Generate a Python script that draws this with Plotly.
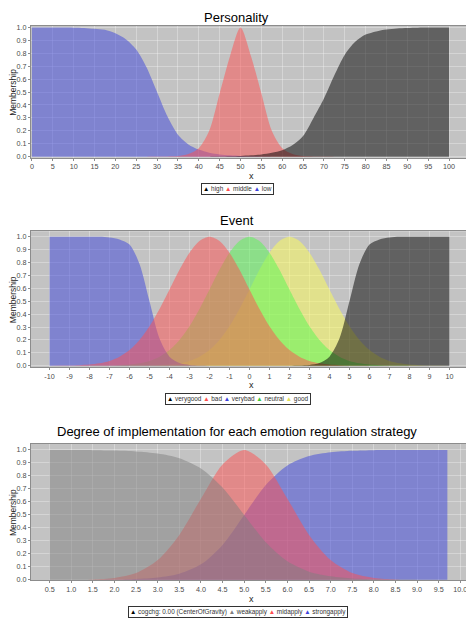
import plotly.graph_objects as go

# ---------------- data ----------------
# Personality
pers_x = [0, 2.5, 5, 7.5, 10, 12.5, 15, 17.5, 20, 22.5, 25, 27.5, 30, 32.5, 35, 37.5, 40,
          42.5, 45, 47.5, 50, 52.5, 55, 57.5, 60, 62.5, 65, 67.5, 70, 72.5, 75, 77.5, 80,
          82.5, 85, 87.5, 90, 92.5, 95, 97.5, 100]
pers_low = [1.0, 1.0, 1.0, 1.0, 0.999, 0.997, 0.99, 0.982, 0.955, 0.91, 0.83, 0.69, 0.5,
            0.31, 0.17, 0.095, 0.055, 0.03, 0.017, 0.01, 0.006, 0.003, 0.001, 0, 0, 0, 0,
            0, 0, 0, 0, 0, 0, 0, 0, 0, 0, 0, 0, 0, 0]
pers_middle = [0, 0, 0, 0, 0, 0, 0, 0, 0, 0, 0, 0, 0.0005, 0.002, 0.005, 0.02, 0.065, 0.2,
               0.49, 0.78, 1.0, 0.78, 0.49, 0.2, 0.065, 0.02, 0.005, 0.002, 0.0005, 0, 0,
               0, 0, 0, 0, 0, 0, 0, 0, 0, 0]
pers_high = [0, 0, 0, 0, 0, 0, 0, 0, 0, 0, 0, 0, 0, 0, 0, 0, 0, 0, 0.001, 0.003, 0.006,
             0.01, 0.017, 0.03, 0.05, 0.09, 0.16, 0.3, 0.45, 0.63, 0.79, 0.89, 0.945, 0.97,
             0.985, 0.993, 0.997, 0.999, 1.0, 1.0, 1.0]
pers_ticks = [0, 5, 10, 15, 20, 25, 30, 35, 40, 45, 50, 55, 60, 65, 70, 75, 80, 85, 90, 95, 100]

# Event
ev_x = [-10, -9.5, -9, -8.5, -8, -7.5, -7, -6.5, -6, -5.5, -5, -4.5, -4, -3.5, -3, -2.5,
        -2, -1.5, -1, -0.5, 0, 0.5, 1, 1.5, 2, 2.5, 3, 3.5, 4, 4.5, 5, 5.5, 6, 6.5, 7,
        7.5, 8, 8.5, 9, 9.5, 10]
ev_verygood = [0, 0, 0, 0, 0, 0, 0, 0, 0, 0, 0, 0, 0, 0, 0, 0, 0, 0, 0, 0, 0, 0, 0, 0, 0,
               0.0015, 0.006, 0.02, 0.07, 0.21, 0.5, 0.79, 0.94, 0.98, 0.995,
               1.0, 1.0, 1.0, 1.0, 1.0, 1.0]
ev_bad = [0, 0.0006, 0.0016, 0.004, 0.009, 0.019, 0.037, 0.07, 0.122, 0.2, 0.306, 0.44,
          0.591, 0.744, 0.877, 0.968, 1.0, 0.968, 0.877, 0.744, 0.591, 0.44, 0.306, 0.2,
          0.122, 0.07, 0.037, 0.019, 0.009, 0.004, 0.0016, 0.0006, 0, 0, 0, 0, 0, 0, 0, 0, 0]
ev_verybad = [1.0, 1.0, 1.0, 1.0, 1.0, 1.0, 0.995, 0.98, 0.94, 0.79, 0.5, 0.21, 0.07, 0.02,
              0.006, 0.0015, 0, 0, 0, 0, 0, 0, 0, 0, 0, 0, 0, 0, 0, 0, 0, 0, 0, 0, 0, 0,
              0, 0, 0, 0, 0]
ev_neutral = [0, 0, 0, 0, 0, 0.0006, 0.0016, 0.004, 0.009, 0.019, 0.037, 0.07, 0.122, 0.2,
              0.306, 0.44, 0.591, 0.744, 0.877, 0.968, 1.0, 0.968, 0.877, 0.744, 0.591,
              0.44, 0.306, 0.2, 0.122, 0.07, 0.037, 0.019, 0.009, 0.004, 0.0016, 0.0006,
              0, 0, 0, 0, 0]
ev_good = [0, 0, 0, 0, 0, 0, 0, 0, 0, 0.0006, 0.0016, 0.004, 0.009, 0.019, 0.037, 0.07,
           0.122, 0.2, 0.306, 0.44, 0.591, 0.744, 0.877, 0.968, 1.0, 0.968, 0.877, 0.744,
           0.591, 0.44, 0.306, 0.2, 0.122, 0.07, 0.037, 0.019, 0.009, 0.004, 0.0016,
           0.0006, 0]
ev_ticks = [-10, -9, -8, -7, -6, -5, -4, -3, -2, -1, 0, 1, 2, 3, 4, 5, 6, 7, 8, 9, 10]

# Degree of implementation
deg_x = [0.5, 1.0, 1.5, 2.0, 2.5, 3.0, 3.5, 4.0, 4.5, 5.0, 5.5, 6.0, 6.5, 7.0, 7.5, 8.0,
         8.5, 9.0, 9.5, 9.7]
deg_weak = [1.0, 0.999, 0.998, 0.995, 0.989, 0.973, 0.937, 0.858, 0.711, 0.5, 0.289,
            0.142, 0.063, 0.027, 0.011, 0.005, 0.002, 0.001, 0.0003, 0.0002]
deg_mid = [0, 0.0005, 0.003, 0.014, 0.052, 0.152, 0.346, 0.624, 0.889, 1.0, 0.889, 0.624,
           0.346, 0.152, 0.052, 0.014, 0.003, 0.0005, 0, 0]
deg_strong = [0.0001, 0.0003, 0.0008, 0.0025, 0.0067, 0.018, 0.047, 0.119, 0.269, 0.5,
              0.731, 0.881, 0.953, 0.982, 0.993, 0.998, 0.999, 1.0, 1.0, 1.0]
deg_ticks = [0.5, 1.0, 1.5, 2.0, 2.5, 3.0, 3.5, 4.0, 4.5, 5.0, 5.5, 6.0, 6.5, 7.0, 7.5,
             8.0, 8.5, 9.0, 9.5, 10.0]

y_ticks = [0.0, 0.1, 0.2, 0.3, 0.4, 0.5, 0.6, 0.7, 0.8, 0.9, 1.0]

# series colours (drawn at 50% alpha over the grey plot)
BLACK = (0, 0, 0)
RED = (255, 80, 80)
BLUE = (60, 68, 220)
GREEN = (85, 250, 80)
YELLOW = (255, 255, 85)
GRAY = (128, 128, 128)

# the page puts the plot 8px in from the corner, so the figure is 8px smaller
W, H = 466, 616


def rgba(c, a):
    return 'rgba(%d,%d,%d,%s)' % (c[0], c[1], c[2], a)


fig = go.Figure()


def add_area(x, y, color, n):
    fig.add_trace(go.Scatter(
        x=x, y=y, mode='lines',
        line=dict(width=0, shape='spline', smoothing=0.8),
        fill='tozeroy', fillcolor=rgba(color, 0.5),
        xaxis='x' + n, yaxis='y' + n,
        showlegend=False, hoverinfo='skip'))


# series are drawn in reverse legend order (first legend item on top)
add_area(pers_x, pers_low, BLUE, '')
add_area(pers_x, pers_middle, RED, '')
add_area(pers_x, pers_high, BLACK, '')

add_area(ev_x, ev_good, YELLOW, '2')
add_area(ev_x, ev_neutral, GREEN, '2')
add_area(ev_x, ev_verybad, BLUE, '2')
add_area(ev_x, ev_bad, RED, '2')
add_area(ev_x, ev_verygood, BLACK, '2')

add_area(deg_x, deg_strong, BLUE, '3')
add_area(deg_x, deg_mid, RED, '3')
add_area(deg_x, deg_weak, GRAY, '3')

SANS = 'Liberation Sans, Arial, sans-serif'
TICKFONT = dict(family=SANS, size=7.2, color='#4a4a4a')
LABELFONT = dict(family=SANS, size=8.5, color='#222')

XDOM = [22 / W, 464 / W]


def xaxis(rng, ticks, anchor):
    return dict(domain=XDOM, range=rng, anchor=anchor, tickmode='array', tickvals=ticks,
                ticktext=[('%g' % t) if isinstance(t, int) else ('%.1f' % t) for t in ticks],
                showgrid=True, gridcolor='rgba(255,255,255,0.3)', gridwidth=1,
                zeroline=False, showline=True, linecolor='#8c8c8c', mirror=True,
                ticks='outside', ticklen=2, tickcolor='#8c8c8c', tickfont=TICKFONT,
                ticklabeloverflow='allow')


def yaxis(top, bottom, rng, anchor):
    return dict(domain=[1 - bottom / H, 1 - top / H], range=rng, anchor=anchor,
                tickmode='array', tickvals=y_ticks, ticktext=['%.1f' % t for t in y_ticks],
                showgrid=True, gridcolor='rgba(255,255,255,0.3)', gridwidth=1,
                zeroline=False, showline=True, linecolor='#8c8c8c', mirror=True,
                ticks='outside', ticklen=2, tickcolor='#8c8c8c', tickfont=TICKFONT,
                ticklabeloverflow='allow')


# plot boxes in page pixels (top, bottom)
boxes = [(15, 148.5), (222.7, 360.3), (437.7, 576)]

fig.update_layout(
    width=W, height=H,
    margin=dict(l=0, r=0, t=0, b=0),
    paper_bgcolor='white', plot_bgcolor='rgb(195,195,195)',
    showlegend=False,
    xaxis=xaxis([-0.24, 105.5], pers_ticks, 'y'),
    yaxis=yaxis(boxes[0][0], boxes[0][1], [-0.009, 1.013], 'x'),
    xaxis2=xaxis([-10.93, 11.13], ev_ticks, 'y2'),
    yaxis2=yaxis(boxes[1][0], boxes[1][1], [-0.012, 1.044], 'x2'),
    xaxis3=xaxis([0.068, 10.27], deg_ticks, 'y3'),
    yaxis3=yaxis(boxes[2][0], boxes[2][1], [-0.005, 1.048], 'x3'),
)

titles = [('Personality', 7),
          ('Event', 212),
          ('Degree of implementation for each emotion regulation strategy', 425)]
for text, py in titles:
    fig.add_annotation(x=228 / W, y=1 - py / H, xref='paper', yref='paper', text=text,
                       showarrow=False, xanchor='center', yanchor='middle',
                       font=dict(family=SANS, size=13, color='black'))

# axis titles
x_label_y = [167, 378, 594.5]
for (top, bottom), ly in zip(boxes, x_label_y):
    fig.add_annotation(x=243 / W, y=1 - ly / H, xref='paper', yref='paper', text='x',
                       showarrow=False, xanchor='center', yanchor='middle',
                       font=dict(family=SANS, size=9, color='#222'))
    fig.add_annotation(x=4 / W, y=1 - (top + bottom) / 2 / H, xref='paper', yref='paper',
                       text='Membership', textangle=-90, showarrow=False,
                       xanchor='center', yanchor='middle', font=LABELFONT)


def legend_text(names, colors):
    return ' '.join("<span style='color:rgb(%d,%d,%d)'>\u25b2</span> %s" % (c + (n,))
                    for n, c in zip(names, colors))


legends = [
    (['high', 'middle', 'low'], [BLACK, RED, BLUE], 180),
    (['verygood', 'bad', 'verybad', 'neutral', 'good'],
     [BLACK, RED, BLUE, (60, 200, 60), (225, 225, 90)], 392),
    (['cogchg: 0.00 (CenterOfGravity)', 'weakapply', 'midapply', 'strongapply'],
     [BLACK, GRAY, RED, BLUE], 607.5),
]
for names, colors, py in legends:
    fig.add_annotation(x=229 / W, y=1 - py / H, xref='paper', yref='paper',
                       text=legend_text(names, colors), showarrow=False,
                       xanchor='center', yanchor='middle',
                       bordercolor='#333', borderwidth=1, borderpad=1,
                       font=dict(family=SANS, size=6.4, color='#333'))

fig.write_html("out.html")
